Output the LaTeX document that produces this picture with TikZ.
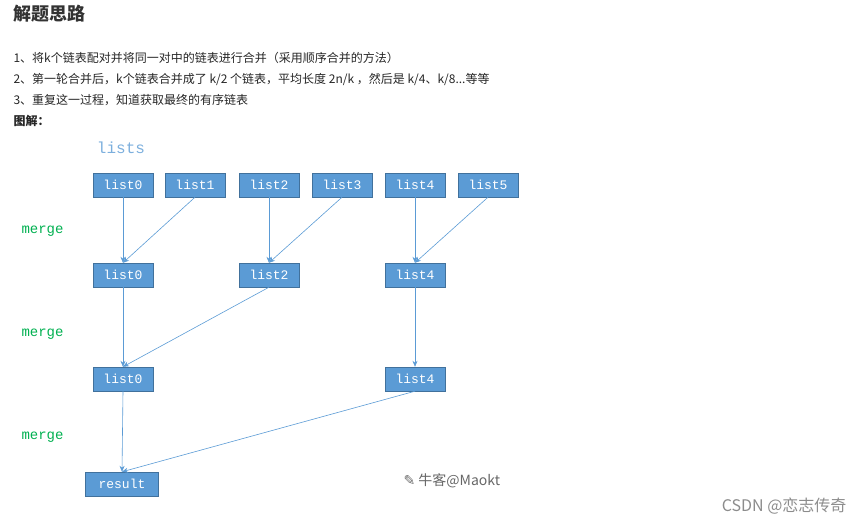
\documentclass[tikz,border=0pt]{standalone}
\usepackage{fontspec}
\setmainfont{Liberation Sans}
\newfontfamily\cjk{Noto Sans CJK SC}
\newfontfamily\mono{Liberation Mono}
\usetikzlibrary{arrows.meta}
\definecolor{boxblue}{HTML}{5B9BD5}
\definecolor{boxedge}{HTML}{41719C}
\definecolor{mgreen}{HTML}{00B050}
\begin{document}
\begin{tikzpicture}[x=1pt,y=-1pt,
  lbox/.style={draw=boxedge,fill=boxblue,text=white,font=\mono\fontsize{13}{13}\selectfont,minimum width=60pt,minimum height=24pt,inner sep=0pt},
  conn/.style={draw=boxblue,line width=0.6pt,-{Stealth[length=6pt,width=5pt]}},
  mg/.style={text=mgreen,font=\mono\fontsize{14}{14}\selectfont,anchor=west},
  txt/.style={anchor=west,font=\cjk\fontsize{12}{12}\selectfont,text=black!85}]
\useasboundingbox (0,0) rectangle (864,525);
\node[anchor=west,font=\cjk\bfseries\fontsize{18}{18}\selectfont,text=black!80] (t) at (10,14) {解题思路};
\node[txt] (l1) at (10,58) {1、将k个链表配对并将同一对中的链表进行合并（采用顺序合并的方法）};
\node[txt] (l2) at (10,79) {2、第一轮合并后，k个链表合并成了 k/2 个链表，平均长度 2n/k ，然后是 k/4、k/8...等等};
\node[txt] (l3) at (10,100) {3、重复这一过程，知道获取最终的有序链表};
\node[txt,font=\cjk\bfseries\fontsize{12}{12}\selectfont] (l4) at (10,121) {图解：};
\node[text=boxblue!80,font=\mono\fontsize{16}{16}\selectfont] (ls) at (121,148) {lists};
\node[lbox] (a0) at (123,185) {list0};
\node[lbox] (a1) at (195,185) {list1};
\node[lbox] (a2) at (269,185) {list2};
\node[lbox] (a3) at (342,185) {list3};
\node[lbox] (a4) at (415,185) {list4};
\node[lbox] (a5) at (488,185) {list5};
\node[lbox] (b0) at (123,275) {list0};
\node[lbox] (b2) at (269,275) {list2};
\node[lbox] (b4) at (415,275) {list4};
\node[lbox] (c0) at (123,379) {list0};
\node[lbox] (c4) at (415,379) {list4};
\node[lbox,minimum width=73pt] (r) at (122,484) {result};
\node[mg] (m1) at (18,231) {merge};
\node[mg] (m2) at (18,334) {merge};
\node[mg] (m3) at (18,437) {merge};
\draw[conn] (a0.south) -- (b0.north);
\draw[conn] (a1.south) -- (b0.north);
\draw[conn] (a2.south) -- (b2.north);
\draw[conn] (a3.south) -- (b2.north);
\draw[conn] (a4.south) -- (b4.north);
\draw[conn] (a5.south) -- (b4.north);
\draw[conn] (b0.south) -- (c0.north);
\draw[conn] (b2.south) -- (c0.north);
\draw[conn] (b4.south) -- (c4.north);
\draw[conn] (c0.south) -- (r.north);
\draw[conn] (c4.south) -- (r.north);
\node[anchor=west,text=black!60,font=\cjk\fontsize{14}{14}\selectfont] (w1) at (400,481) {{\fontspec{DejaVu Sans}✎}\ 牛客@Maokt};
\node[anchor=east,text=black!45,font=\cjk\fontsize{16}{16}\selectfont] (w2) at (850,506) {CSDN @恋志传奇};
\end{tikzpicture}
\end{document}
